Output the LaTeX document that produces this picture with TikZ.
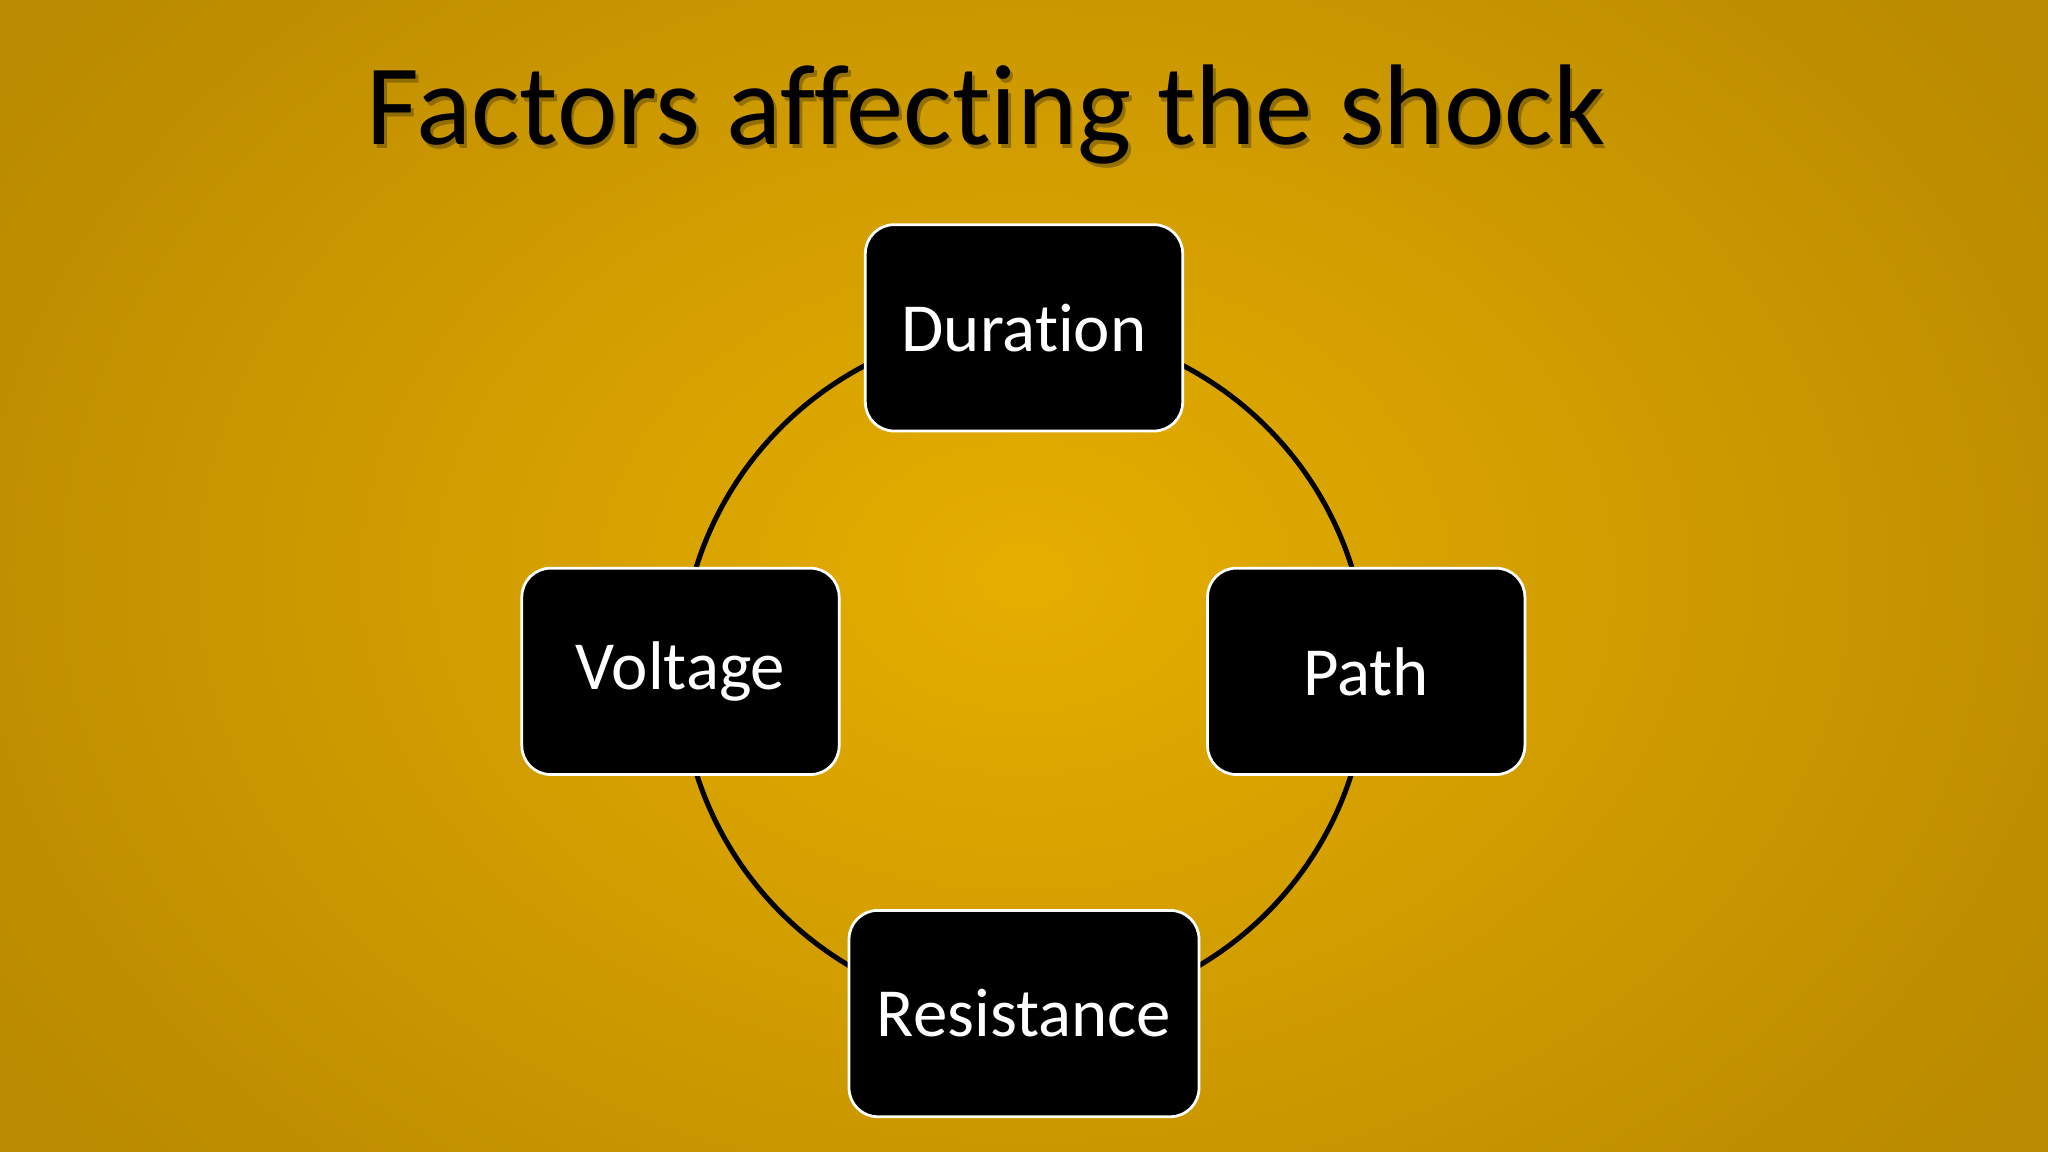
\documentclass[tikz,border=0pt]{standalone}
\usepackage{fontspec}
\setmainfont{Carlito}[Ligatures={NoCommon}]
\begin{document}
\begin{tikzpicture}[x=0.02cm,y=-0.02cm,
  fbox/.style={draw=white,line width=1.2pt,fill=black,rounded corners=0.44cm,
    minimum width=4.86cm,minimum height=3.16cm,text=white,font=\fontsize{30}{36}\selectfont},
  arcline/.style={line width=2.2pt,black}]
\useasboundingbox (0,0) rectangle (1568,882);
\begin{scope}
\clip (0,0) rectangle (1568,882);
\shade[inner color={rgb,255:red,230;green,174;blue,0},outer color={rgb,255:red,186;green,138;blue,0}] (-150,-250) rectangle (1718,1132);
\end{scope}
\node[font=\fontsize{50}{60}\selectfont,text={rgb,255:red,90;green,70;blue,0},opacity=0.5] at (757,91) {Factors affecting the shock};
\node (title) [font=\fontsize{50}{60}\selectfont] at (755,88) {Factors affecting the shock};
\coordinate (c) at (784,513);
\draw[arcline] (c) circle[radius=5.26cm];
\node[fbox] (dur) at (784,251) {Duration};
\node[fbox] (vol) at (521,514) {Voltage};
\node[fbox] (path) at (1046,514) {Path};
\node[fbox,minimum width=5.36cm] (res) at (784,776) {Resistance};
\end{tikzpicture}
\end{document}
